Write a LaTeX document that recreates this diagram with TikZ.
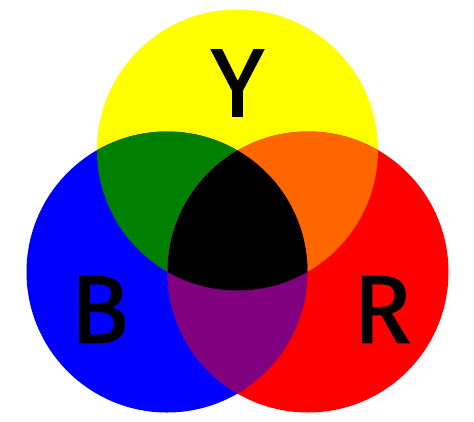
\documentclass[tikz,border=0pt]{standalone}
\usepackage{fontspec}
\newfontfamily\lblfont{Fira Sans}[BoldFont=Fira Sans,BoldFeatures={FakeBold=1.6}]
\definecolor{cy}{RGB}{255,255,0}
\definecolor{cb}{RGB}{0,0,255}
\definecolor{cr}{RGB}{255,0,0}
\definecolor{cg}{RGB}{0,128,0}
\definecolor{co}{RGB}{255,102,0}
\definecolor{cp}{RGB}{128,0,128}
\begin{document}
\begin{tikzpicture}[x=1pt,y=-1pt,
  lbl/.style={inner sep=0pt,font=\lblfont\fontsize{96}{96}\selectfont\bfseries}]
\useasboundingbox (0,0) rectangle (474,421);
\def\rr{140.5}
\coordinate (Y) at (237.5,150);
\coordinate (B) at (167,272);
\coordinate (R) at (308,272);
\fill[cy] (Y) circle[radius=\rr];
\fill[cb] (B) circle[radius=\rr];
\fill[cr] (R) circle[radius=\rr];
\begin{scope}
  \clip (Y) circle[radius=\rr];
  \fill[cg] (B) circle[radius=\rr];
  \fill[co] (R) circle[radius=\rr];
\end{scope}
\begin{scope}
  \clip (B) circle[radius=\rr];
  \fill[cp] (R) circle[radius=\rr];
  \clip (Y) circle[radius=\rr];
  \fill[black] (R) circle[radius=\rr];
\end{scope}
\node[lbl] (ly) at (237.5,83) {Y};
\node[lbl] (lb) at (99.5,309.5) {B};
\node[lbl] (lr) at (382,309.5) {R};
\end{tikzpicture}
\end{document}
